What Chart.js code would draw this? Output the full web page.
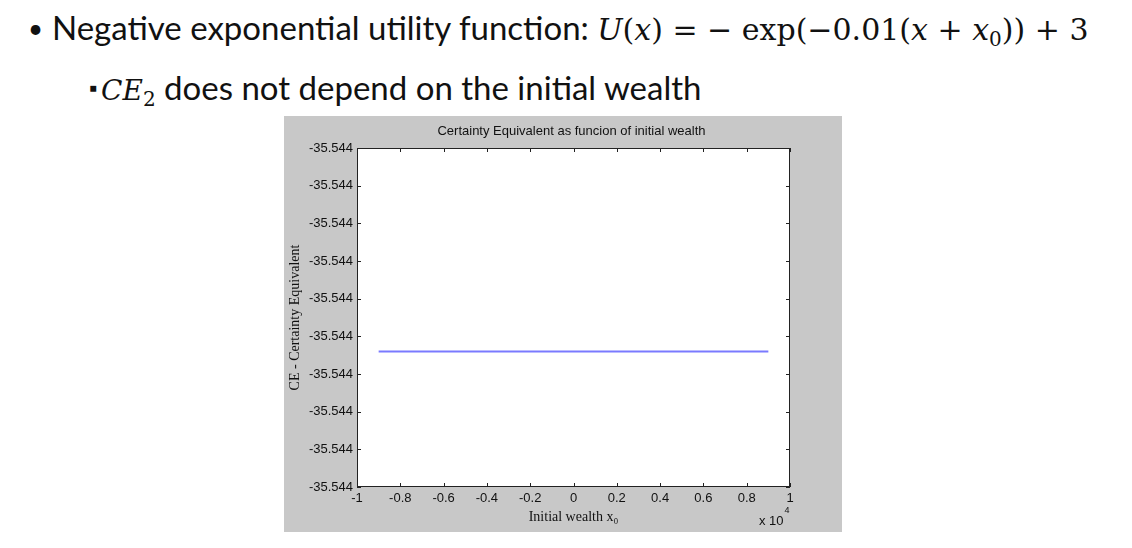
<!DOCTYPE html>
<html>
<head>
<meta charset="utf-8">
<script src="https://cdn.jsdelivr.net/npm/chart.js@4.4.0/dist/chart.umd.min.js"></script>
<style>
  html, body { margin: 0; padding: 0; background: #fff; }
  body { width: 1132px; height: 548px; position: relative; overflow: hidden; }
  .line { position: absolute; white-space: nowrap; color: #111; font-family: Lato, 'Open Sans', sans-serif; font-size: 33px; }
  .math { font-family: 'DejaVu Serif', 'Liberation Serif', serif; font-size: 30px; }
  .math i { font-style: italic; }
  .math sub { font-size: 20px; vertical-align: -6px; line-height: 0; }
  #l1 { left: 28px; top: 7px; }
  #l2 { left: 89px; top: 67px; }
  #l2 .math { font-size: 28px; }
  #l1 .bullet { display: inline-block; width: 24px; font-size: 26px; vertical-align: 2px; }
  #l2 .bullet { display: inline-block; width: 12px; font-size: 22px; vertical-align: 4px; }
  #box { position: absolute; left: 284px; top: 116px; width: 558px; height: 416px; background: #c8c8c8; }
</style>
</head>
<body>
<div class="line" id="l1"><span class="bullet">•</span>Negative exponential utility function: <span class="math"><i>U</i>(<i>x</i>) = − exp(−0.01(<i>x</i> + <i>x</i><sub>0</sub>)) + 3</span></div>
<div class="line" id="l2"><span class="bullet">▪</span><span class="math"><i>CE</i><sub>2</sub></span> does not depend on the initial wealth</div>
<div id="box"><canvas id="chart-ce"></canvas></div>
<script>
/* eslint-disable no-undef */
const chartTitle = 'Certainty Equivalent as funcion of initial wealth'
const xLabel = 'Initial wealth x\u2080'
const yLabel = 'CE - Certainty Equivalent'

// initial wealth x0 (plotted range)
const wealth = [-9000, -8000, -7000, -6000, -5000, -4000, -3000, -2000, -1000, 0,
  1000, 2000, 3000, 4000, 5000, 6000, 7000, 8000, 9000]
// CE2, constant
const certaintyEq = [-35.544054, -35.544054, -35.544054, -35.544054, -35.544054, -35.544054,
  -35.544054, -35.544054, -35.544054, -35.544054, -35.544054, -35.544054, -35.544054,
  -35.544054, -35.544054, -35.544054, -35.544054, -35.544054, -35.544054]

const xTicks = [-10000, -8000, -6000, -4000, -2000, 0, 2000, 4000, 6000, 8000, 10000]
const yTicks = [-35.54409, -35.54408, -35.54407, -35.54406, -35.54405, -35.54404,
  -35.54403, -35.54402, -35.54401, -35.54400]

const axisFont = { family: "'Liberation Sans', Arial, sans-serif", size: 13 }
const labelFont = { family: "'Liberation Serif', 'Times New Roman', serif", size: 14 }

// white axes, box round them, inward ticks on all four sides, title and exponent
const matlabAxes = {
  id: 'matlabAxes',
  beforeDraw (chart) {
    const { ctx, chartArea: a } = chart
    ctx.save()
    ctx.fillStyle = '#fff'
    ctx.fillRect(a.left, a.top, a.right - a.left, a.bottom - a.top)
    ctx.restore()
  },
  afterDraw (chart) {
    const { ctx, chartArea: a, scales } = chart
    const tl = 4
    ctx.save()
    ctx.strokeStyle = '#222'
    ctx.lineWidth = 1
    ctx.strokeRect(a.left + 0.5, a.top + 0.5, a.right - a.left - 1, a.bottom - a.top - 1)
    ctx.beginPath()
    xTicks.forEach(v => {
      const px = Math.round(scales.x.getPixelForValue(v)) + 0.5
      ctx.moveTo(px, a.bottom); ctx.lineTo(px, a.bottom - tl)
      ctx.moveTo(px, a.top); ctx.lineTo(px, a.top + tl)
    })
    yTicks.forEach(v => {
      const py = Math.round(scales.y.getPixelForValue(v)) + 0.5
      ctx.moveTo(a.left, py); ctx.lineTo(a.left + tl, py)
      ctx.moveTo(a.right, py); ctx.lineTo(a.right - tl, py)
    })
    ctx.stroke()

    ctx.fillStyle = '#111'
    ctx.font = `${axisFont.size}px ${axisFont.family}`
    ctx.textAlign = 'center'
    ctx.textBaseline = 'middle'
    ctx.fillText(chartTitle, (a.left + a.right) / 2 - 2, 15)

    ctx.textAlign = 'left'
    ctx.textBaseline = 'middle'
    const ex = scales.x.getPixelForValue(xTicks[xTicks.length - 1]) - 31
    ctx.fillText('x 10', ex, 405)
    const w = ctx.measureText('x 10').width
    ctx.font = `9px ${axisFont.family}`
    ctx.fillText('4', ex + w + 1, 395)
    ctx.restore()
  }
}

const chartElement = document.getElementById('chart-ce').getContext('2d')

const ceChart = new Chart(chartElement, {
  type: 'line',
  data: {
    datasets: [{
      label: 'CE',
      data: wealth.map((w, i) => ({ x: w, y: certaintyEq[i] })),
      borderColor: '#7a7aff',
      borderWidth: 2,
      pointRadius: 0,
      fill: false
    }]
  },
  options: {
    responsive: true,
    maintainAspectRatio: false,
    animation: false,
    layout: { padding: { top: 32, right: 52, left: 0, bottom: 0 } },
    scales: {
      x: {
        type: 'linear',
        min: xTicks[0],
        max: xTicks[xTicks.length - 1],
        afterBuildTicks: s => { s.ticks = xTicks.map(v => ({ value: v })) },
        afterFit: s => { s.height = 45 },
        grid: { display: false, drawTicks: false },
        border: { display: false },
        ticks: {
          font: axisFont,
          color: '#111',
          padding: 4,
          maxRotation: 0,
          autoSkip: false,
          callback: v => String(v / 10000)
        },
        title: { display: true, text: xLabel, font: labelFont, color: '#111', padding: { bottom: 6.6 } }
      },
      y: {
        type: 'linear',
        min: yTicks[0],
        max: yTicks[yTicks.length - 1],
        afterBuildTicks: s => { s.ticks = yTicks.map(v => ({ value: v })) },
        afterFit: s => { s.width = 73 },
        grid: { display: false, drawTicks: false },
        border: { display: false },
        ticks: {
          font: axisFont,
          color: '#111',
          padding: 4,
          autoSkip: false,
          callback: v => v.toFixed(3)
        },
        title: { display: true, text: yLabel, font: labelFont, color: '#111', padding: { top: 2.6 } }
      }
    },
    plugins: {
      legend: { display: false },
      tooltip: { enabled: false }
    }
  },
  plugins: [matlabAxes]
})
</script>
</body>
</html>
